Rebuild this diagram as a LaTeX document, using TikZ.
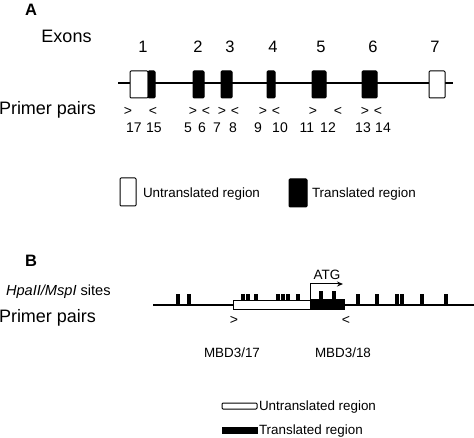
\documentclass[tikz,border=0pt]{standalone}
\usepackage{fontspec}
\setmainfont{Liberation Sans}
\usetikzlibrary{arrows.meta}
\newcommand{\fs}[1]{\fontsize{#1}{#1}\selectfont}
\begin{document}
\begin{tikzpicture}[x=1pt,y=-1pt,
  lbl/.style={inner sep=0pt,outer sep=0pt,anchor=base},
  big/.style={lbl,font=\fs{18}},
  mid/.style={lbl,font=\fs{14}},
  small/.style={lbl,font=\fs{13.4}},
  utr/.style={draw,fill=white,line width=1pt,rounded corners=1pt,inner sep=0pt,minimum height=27pt},
  cds/.style={draw,fill=black,line width=1pt,rounded corners=1pt,inner sep=0pt,minimum height=27pt},
  gline/.style={line width=1.2pt},
  site/.style={line width=3.2pt}
]
\useasboundingbox (0,0) rectangle (474,438);
% ---------- Panel A ----------
\node[lbl,font=\fs{16.5}\bfseries] (A) at (31,15.5) {A};
\node[big] (exons) at (66.5,43) {Exons};
\foreach \n/\x in {1/143,2/198,3/230,4/273,5/321,6/373,7/435}
  \node[big,font=\fs{16.5}] (num\n) at (\x,53) {\n};
\coordinate (gA1) at (118,83);
\coordinate (gA2) at (453,83);
\draw[gline] (gA1) -- (gA2);
\node[utr,minimum width=18pt] (e1u) at (139,84.5) {};
\node[cds,minimum width=7pt] (e1c) at (151.5,84.5) {};
\node[cds,minimum width=11pt] (e2) at (198.5,84.5) {};
\node[cds,minimum width=11pt] (e3) at (226.5,84.5) {};
\node[cds,minimum width=8pt] (e4) at (271,84.5) {};
\node[cds,minimum width=14pt] (e5) at (319,84.5) {};
\node[cds,minimum width=15pt] (e6) at (369.5,84.5) {};
\node[utr,minimum width=16pt] (e7) at (437,84.5) {};
\node[big,anchor=base west] (ppA) at (-1,115) {Primer pairs};
\foreach \s/\x [count=\i] in {>/128,</153,>/193,</206,>/222,</235,>/263,</276,>/313,</338,>/365,</378}
  \node[mid] (pa\i) at (\x,116) {\s};
\foreach \s/\x in {17/134,15/154,5/188,6/202,7/217,8/233,9/258,10/280,11/307,12/328,13/363,14/383}
  \node[mid] (pn\s) at (\x,133) {\s};
% legend A
\node[utr,minimum width=16pt,minimum height=28pt] (legAu) at (128,192) {};
\node[small,anchor=base west] (legAut) at (143,198) {Untranslated region};
\node[cds,minimum width=18pt,minimum height=28pt] (legAc) at (298,193) {};
\node[small,anchor=base west] (legAct) at (312,198) {Translated region};
% ---------- Panel B ----------
\node[lbl,font=\fs{16.5}\bfseries] (B) at (31,267) {B};
\node[lbl,font=\fs{14.6},anchor=base west] (sites) at (6,296) {\textit{HpaII/MspI} sites};
\node[big,anchor=base west] (ppB) at (-1,323) {Primer pairs};
\coordinate (gB1) at (153,305);
\coordinate (gB2) at (474,305);
\draw[gline] (gB1) -- (gB2);
\node[draw,fill=white,line width=1pt,inner sep=0pt,minimum width=77pt,minimum height=8.5pt] (bu) at (271.5,305.2) {};
\node[draw,fill=black,line width=1pt,inner sep=0pt,minimum width=34pt,minimum height=10pt] (bc) at (327,304.5) {};
\foreach \x in {178,189,358,377,397,402,422,446}
  \draw[site] (\x,305) -- (\x,294);
\foreach \x in {243,248,256,278,283,288,298}
  \draw[site] (\x,301) -- (\x,294);
\foreach \x in {321,334}
  \draw[site] (\x,300) -- (\x,291);
\coordinate (atg1) at (310,300);
\coordinate (atg2) at (310,284);
\coordinate (atg3) at (343,284);
\draw[line width=1pt,-{Stealth[length=6pt,width=5pt]}] (atg1) -- (atg2) -- (atg3);
\node[lbl,font=\fs{13.5}] (atg) at (327,280) {ATG};
\node[mid] (pb1) at (234,325) {>};
\node[mid] (pb2) at (346,325) {<};
\node[small] (m17) at (232,357) {MBD3/17};
\node[small] (m18) at (343,357) {MBD3/18};
% legend B
\node[draw,fill=white,line width=1pt,rounded corners=1pt,inner sep=0pt,minimum width=35pt,minimum height=6pt] (legBu) at (239.5,406) {};
\node[small,anchor=base west] (legBut) at (259,410) {Untranslated region};
\node[draw,fill=black,line width=1pt,inner sep=0pt,minimum width=35pt,minimum height=6pt] (legBc) at (239.5,430) {};
\node[small,anchor=base west] (legBct) at (259,434) {Translated region};
\end{tikzpicture}
\end{document}
